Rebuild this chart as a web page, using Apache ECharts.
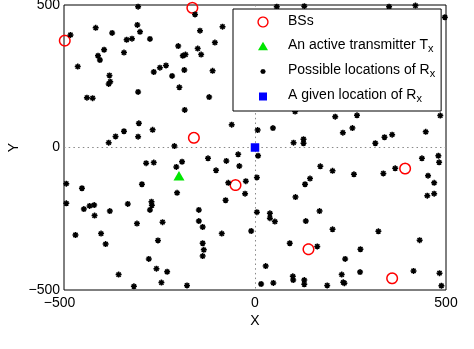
<!DOCTYPE html>
<html>
<head>
<meta charset="utf-8">
<script src="https://cdn.jsdelivr.net/npm/echarts@6/dist/echarts.min.js"></script>
<style>
html,body{margin:0;padding:0;background:#fff;}
#chart{width:474px;height:349px;}
</style>
</head>
<body>
<div id="chart"></div>
<script>
// ---- data ----
var xTicks = [-500, 0, 500];
var yTicks = [-500, 0, 500];
var seriesNames = ['BSs', 'An active transmitter Tx', 'Possible locations of Rx', 'A given location of Rx'];

var bsX = [-498, -164, -160, -51, 393, 140, 359];
var bsY = [375, 490, 34, -132, -74, -357, -459];

var txX = [-199];
var txY = [-99];

var givenX = [0];
var givenY = [0];

var rxX = [-306,-157,-417,-85,-483,-374,-308,-301,-144,-336,-322,-275,-105,-201,-395,-150,-411,-406,-343,-189,
  -182,-141,-464,-265,-249,-233,-185,-111,-381,-217,-379,-383,-198,-306,-440,-425,-120,-184,-61,-304,
  -268,-343,-365,-306,-383,-211,7,57,129,351,420,497,105,210,267,485,47,230,255,339,
  359,447,101,127,127,315,-285,-265,-191,-206,-123,-75,-44,-41,-102,8,-494,-453,-296,-204,
  -70,-24,-26,5,-494,-448,-433,-421,-420,-380,-333,-271,-270,-275,-77,-147,5,-309,-242,-147,
  -137,-470,-403,-391,-254,-87,-10,-137,-134,-137,-278,-258,-230,-357,-245,-317,-178,437,480,482,
  367,171,203,259,336,144,131,453,469,106,451,469,39,39,52,169,133,203,323,91,
  163,431,276,236,28,275,415,227,483,99,100,129,129,16,48,189,231,234,488];
var rxY = [494,467,420,424,395,402,430,406,410,378,382,381,368,356,343,347,322,307,333,322,
  326,326,284,265,280,288,272,269,253,251,231,223,211,195,175,173,177,132,80,85,
  62,57,39,38,17,5,61,494,496,494,498,457,126,108,113,112,68,52,68,36,
  45,55,17,29,15,15,-55,-53,-50,-68,-38,-47,-24,-65,-80,-29,-127,-143,-129,-159,
  -124,-118,-162,-105,-196,-216,-205,-202,-239,-223,-198,-190,-203,-219,-185,-219,-227,-267,-262,-258,
  -279,-307,-302,-339,-326,-302,-293,-336,-359,-381,-391,-425,-436,-446,-474,-487,-484,-38,-29,-52,
  -73,-66,-82,-94,-91,-109,-129,-99,-124,-174,-169,-162,-231,-248,-260,-223,-258,-287,-294,-336,
  -347,-325,-357,-391,-416,-437,-433,-446,-441,-452,-465,-465,-480,-479,-475,-484,-473,-476,-485];

function zip(a, b) { var o = []; for (var i = 0; i < a.length; i++) o.push([a[i], b[i]]); return o; }

// ---- symbol shapes ----
function f(v) { return (Math.round(v * 100) / 100).toString(); }
function ringPath(cx, cy, r1, r2, n) {
  var s = '', i, a;
  for (i = 0; i < n; i++) { a = 2 * Math.PI * i / n; s += (i ? 'L' : 'M') + f(cx + r1 * Math.cos(a)) + ',' + f(cy + r1 * Math.sin(a)); }
  s += 'Z';
  for (i = 0; i < n; i++) { a = -2 * Math.PI * i / n; s += (i ? 'L' : 'M') + f(cx + r2 * Math.cos(a)) + ',' + f(cy + r2 * Math.sin(a)); }
  return s + 'Z';
}
function asteriskPath(cx, cy, L, w) {
  var s = '';
  [0, 45, 90, 135].forEach(function (deg) {
    var t = deg * Math.PI / 180, c = Math.cos(t), sn = Math.sin(t);
    var pts = [[-L, -w], [L, -w], [L, w], [-L, w]];
    pts.forEach(function (p, i) {
      s += (i ? 'L' : 'M') + f(cx + p[0] * c - p[1] * sn) + ',' + f(cy + p[0] * sn + p[1] * c);
    });
    s += 'Z';
  });
  return s;
}
var BOX = 'M0,0M40,14'; // legend icon frame 40x14
var ringSym = 'path://' + ringPath(0, 0, 6, 4.5, 40);
var starSym = 'path://' + asteriskPath(0, 0, 3, 0.75);
var legRing = 'path://' + BOX + ringPath(20, 7, 5.6, 4.2, 40);
var legTri = 'path://' + BOX + 'M15,11.3L25,11.3L20,2.8Z';
var legStar = 'path://' + BOX + asteriskPath(20, 7.5, 2.6, 0.7);
var legSq = 'path://' + BOX + 'M16,3.5L24,3.5L24,11.5L16,11.5Z';

var FONT = '"Liberation Sans", Arial, Helvetica, sans-serif';
var legendText = {
  'BSs': '{a|BSs}',
  'An active transmitter Tx': '{a|An active transmitter T}{s|x}',
  'Possible locations of Rx': '{a|Possible locations of R}{s|x}',
  'A given location of Rx': '{a|A given location of R}{s|x}'
};
function minus(v) { return String(v).replace('-', '\u2212'); }

var chart = echarts.init(document.getElementById('chart'), null, { renderer: 'canvas' });
chart.setOption({
  animation: false,
  backgroundColor: '#fff',
  textStyle: { fontFamily: FONT },
  grid: { left: 64, right: 28, top: 5, bottom: 59, containLabel: false, outerBoundsMode: 'none',
    show: true, borderColor: '#000', borderWidth: 1, backgroundColor: 'transparent' },
  xAxis: {
    type: 'value', min: xTicks[0], max: xTicks[xTicks.length - 1], interval: 500,
    name: 'X', nameLocation: 'middle', nameGap: 24, nameMoveOverlap: false,
    nameTextStyle: { fontSize: 14, color: '#000', fontFamily: FONT },
    axisLine: { show: false }, axisTick: { show: false },
    axisLabel: {
      fontSize: 14, color: '#000', margin: 6, fontFamily: FONT,
      formatter: function (v) { return v < 0 ? '{n|' + minus(v) + '}' : '{p|' + v + '}'; },
      rich: {
        n: { fontSize: 14, color: '#000', fontFamily: FONT, padding: [0, 9, 0, 0] },
        p: { fontSize: 14, color: '#000', fontFamily: FONT }
      }
    },
    splitLine: { show: true, showMinLine: false, showMaxLine: false, lineStyle: { color: '#888', width: 1, type: [1.5, 3.2] } }
  },
  yAxis: {
    type: 'value', min: yTicks[0], max: yTicks[yTicks.length - 1], interval: 500,
    name: 'Y', nameLocation: 'middle', nameGap: 43, nameMoveOverlap: false,
    nameTextStyle: { fontSize: 14, color: '#000', fontFamily: FONT },
    axisLine: { show: false }, axisTick: { show: false },
    axisLabel: { fontSize: 14, color: '#000', margin: 4, fontFamily: FONT, formatter: minus },
    splitLine: { show: true, showMinLine: false, showMaxLine: false, lineStyle: { color: '#888', width: 1, type: [1.5, 3.2] } }
  },
  legend: {
    orient: 'vertical', left: 233, top: 9,
    padding: [5, 6, 7, 10], itemWidth: 40, itemHeight: 14, itemGap: 5,
    backgroundColor: '#fff', borderColor: '#000', borderWidth: 1, borderRadius: 0,
    selectedMode: false,
    itemStyle: { borderWidth: 0 },
    data: [
      { name: seriesNames[0], icon: legRing },
      { name: seriesNames[1], icon: legTri },
      { name: seriesNames[2], icon: legStar },
      { name: seriesNames[3], icon: legSq }
    ],
    formatter: function (n) { return legendText[n]; },
    textStyle: {
      fontSize: 14, color: '#000', fontFamily: FONT,
      rich: {
        a: { fontSize: 14, lineHeight: 16, verticalAlign: 'top', color: '#000', fontFamily: FONT },
        s: { fontSize: 11, lineHeight: 11, verticalAlign: 'bottom', padding: [9, 0, 0, 0], color: '#000', fontFamily: FONT }
      }
    }
  },
  series: [
    { name: seriesNames[0], type: 'scatter', data: zip(bsX, bsY), symbol: ringSym, symbolSize: 12,
      itemStyle: { color: '#ff0000', opacity: 1 }, emphasis: { disabled: true }, z: 2 },
    { name: seriesNames[1], type: 'scatter', data: zip(txX, txY), symbol: 'triangle', symbolSize: [11, 9.5],
      itemStyle: { color: '#00e600', opacity: 1 }, emphasis: { disabled: true }, z: 2 },
    { name: seriesNames[2], type: 'scatter', data: zip(rxX, rxY), symbol: starSym, symbolSize: 6,
      itemStyle: { color: '#000', opacity: 1 }, emphasis: { disabled: true }, z: 3 },
    { name: seriesNames[3], type: 'scatter', data: zip(givenX, givenY), symbol: 'rect', symbolSize: 8.5,
      itemStyle: { color: '#0000ff', opacity: 1 }, emphasis: { disabled: true }, z: 3 }
  ]
});
</script>
</body>
</html>
